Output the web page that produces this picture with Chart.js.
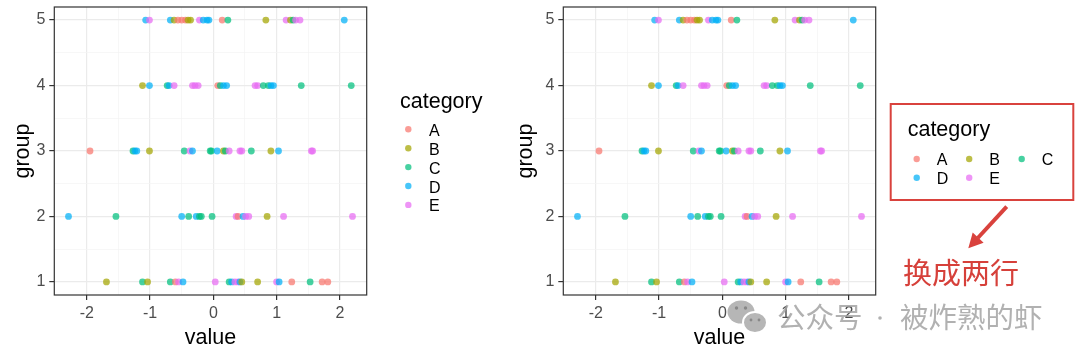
<!DOCTYPE html>
<html>
<head>
<meta charset="utf-8">
<script src="https://cdn.jsdelivr.net/npm/chart.js@4.4.1/dist/chart.umd.min.js"></script>
<style>
  body { margin: 0; background: #fff; width: 1080px; height: 360px; overflow: hidden; position: relative; }
  canvas { position: absolute; top: 0; }
  #leftChart { left: 0; }
  #rightChart { left: 500px; }
  #overlay { position: absolute; left: 0; top: 0; pointer-events: none; }
</style>
</head>
<body>
<canvas id="leftChart" width="380" height="360"></canvas>
<canvas id="rightChart" width="390" height="360"></canvas>
<svg id="overlay" width="1080" height="360"></svg>
<script>
const categories = ['A', 'B', 'C', 'D', 'E'];
const categoryColors = ['#F8766D', '#A3A500', '#00BF7D', '#00B0F6', '#E76BF3'];
const groups = [1, 2, 3, 4, 5];
const xTickLabels = [-2, -1, 0, 1, 2];
const yTickLabels = [1, 2, 3, 4, 5];

// values, one row per group
const group1Values = [-1.69, -1.12, -1.04, -0.68, -0.60, -0.55, -0.48, 0.03, 0.25, 0.29, 0.34, 0.39, 0.42, 0.45, 0.70, 1.00, 1.04, 1.24, 1.53, 1.72, 1.81];
const group1Cats   = ['B', 'C', 'B', 'C', 'A', 'E', 'D', 'E', 'C', 'D', 'E', 'E', 'D', 'B', 'B', 'E', 'D', 'A', 'C', 'A', 'A'];
const group2Values = [-2.29, -1.54, -0.50, -0.39, -0.27, -0.22, -0.19, -0.02, 0.36, 0.39, 0.47, 0.51, 0.56, 0.85, 1.11, 2.20];
const group2Cats   = ['D', 'C', 'D', 'C', 'D', 'C', 'C', 'C', 'E', 'A', 'D', 'E', 'E', 'B', 'E', 'E'];
const group3Values = [-1.95, -1.27, -1.24, -1.21, -1.01, -0.46, -0.37, -0.33, -0.05, -0.03, 0.06, 0.16, 0.19, 0.25, 0.42, 0.45, 0.60, 0.91, 1.03, 1.55, 1.57];
const group3Cats   = ['A', 'C', 'D', 'D', 'B', 'C', 'E', 'D', 'C', 'C', 'D', 'B', 'C', 'E', 'E', 'E', 'C', 'B', 'D', 'E', 'E'];
const group4Values = [-1.12, -1.01, -0.73, -0.70, -0.62, -0.33, -0.29, -0.24, 0.07, 0.11, 0.16, 0.21, 0.66, 0.70, 0.79, 0.87, 0.91, 0.95, 1.39, 2.18];
const group4Cats   = ['B', 'D', 'C', 'D', 'E', 'E', 'E', 'E', 'A', 'C', 'D', 'D', 'E', 'E', 'C', 'C', 'D', 'D', 'C', 'C'];
const group5Values = [-1.07, -1.01, -0.68, -0.62, -0.56, -0.50, -0.44, -0.40, -0.36, -0.22, -0.16, -0.10, -0.07, 0.14, 0.23, 0.83, 1.15, 1.22, 1.26, 1.30, 1.37, 2.07];
const group5Cats   = ['D', 'E', 'D', 'B', 'A', 'A', 'A', 'B', 'B', 'E', 'D', 'D', 'D', 'A', 'C', 'B', 'E', 'B', 'C', 'E', 'E', 'D'];

const groupValues = [group1Values, group2Values, group3Values, group4Values, group5Values];
const groupCats = [group1Cats, group2Cats, group3Cats, group4Cats, group5Cats];

function withAlpha(hex, a) {
    const n = parseInt(hex.slice(1), 16);
    return 'rgba(' + (n >> 16) + ',' + ((n >> 8) & 255) + ',' + (n & 255) + ',' + a + ')';
}

const points = [];
const pointColors = [];
groups.forEach(function (g, i) {
    groupValues[i].forEach(function (v, j) {
        points.push({ x: v, y: g });
        pointColors.push(withAlpha(categoryColors[categories.indexOf(groupCats[i][j])], 0.72));
    });
});

// ggplot style 5% expansion
const allX = points.map(p => p.x);
const xLo = Math.min(...allX), xHi = Math.max(...allX);
const xPad = (xHi - xLo) * 0.05;
const yPad = (groups[groups.length - 1] - groups[0]) * 0.05;

// majors plus minor lines halfway between
function withMinor(major) {
    const out = [];
    major.forEach(function (v, i) {
        if (i > 0) out.push(v - (v - major[i - 1]) / 2);
        out.push(v);
    });
    return out;
}
const xTicks = withMinor(xTickLabels);
const yTicks = withMinor(yTickLabels);

const FONT = "'Liberation Sans', Arial, sans-serif";

const panelBorder = {
    id: 'panelBorder',
    afterDraw(chart) {
        const a = chart.chartArea;
        const ctx = chart.ctx;
        ctx.save();
        ctx.strokeStyle = '#333333';
        ctx.lineWidth = 1.2;
        ctx.strokeRect(a.left, a.top, a.right - a.left, a.bottom - a.top);
        ctx.restore();
    }
};

function gridColor(context) {
    return Number.isInteger(context.tick.value) ? '#EBEBEB' : '#F4F4F4';
}
function gridWidth(context) {
    return Number.isInteger(context.tick.value) ? 1.2 : 0.7;
}
function tickColor(context) {
    return Number.isInteger(context.tick.value) ? '#333333' : 'rgba(0,0,0,0)';
}

function makeChart(id, axisWidth, padRight, yTitlePad) {
    return new Chart(document.getElementById(id), {
        type: 'scatter',
        data: {
            datasets: [{
                data: points,
                pointRadius: 3.4,
                pointBorderWidth: 0,
                pointBackgroundColor: pointColors,
                pointBorderColor: 'rgba(0,0,0,0)',
            }]
        },
        options: {
            responsive: false,
            animation: false,
            devicePixelRatio: 1,
            layout: { padding: { top: 7, right: padRight, left: 0, bottom: 0 } },
            plugins: { legend: { display: false }, tooltip: { enabled: false } },
            scales: {
                x: {
                    type: 'linear',
                    min: xLo - xPad,
                    max: xHi + xPad,
                    afterBuildTicks: function (scale) {
                        scale.ticks = xTicks.map(v => ({ value: v }));
                    },
                    afterFit: function (scale) {
                        scale.height = 65;
                        scale.paddingLeft = 0;
                        scale.paddingRight = 0;
                    },
                    border: { display: false },
                    grid: {
                        color: gridColor,
                        lineWidth: gridWidth,
                        tickColor: tickColor,
                        tickLength: 5,
                        tickWidth: 1.2
                    },
                    ticks: {
                        autoSkip: false,
                        maxRotation: 0,
                        padding: 4,
                        color: '#4D4D4D',
                        font: { family: FONT, size: 16 },
                        callback: function (value) {
                            return Number.isInteger(value) ? String(value) : '';
                        }
                    },
                    title: {
                        display: true,
                        text: 'value',
                        color: '#000000',
                        font: { family: FONT, size: 21.5 },
                        padding: { top: 0, bottom: 9 }
                    }
                },
                y: {
                    type: 'linear',
                    min: groups[0] - yPad,
                    max: groups[groups.length - 1] + yPad,
                    afterBuildTicks: function (scale) {
                        scale.ticks = yTicks.map(v => ({ value: v }));
                    },
                    afterFit: function (scale) {
                        scale.width = axisWidth;
                        scale.paddingTop = 0;
                        scale.paddingBottom = 0;
                    },
                    border: { display: false },
                    grid: {
                        color: gridColor,
                        lineWidth: gridWidth,
                        tickColor: tickColor,
                        tickLength: 5,
                        tickWidth: 1.2
                    },
                    ticks: {
                        autoSkip: false,
                        padding: 4,
                        color: '#4D4D4D',
                        font: { family: FONT, size: 16 },
                        callback: function (value) {
                            return Number.isInteger(value) ? String(value) : '';
                        }
                    },
                    title: {
                        display: true,
                        text: 'group',
                        color: '#000000',
                        font: { family: FONT, size: 21.5 },
                        padding: { top: yTitlePad, bottom: 0 }
                    }
                }
            }
        },
        plugins: [panelBorder]
    });
}

makeChart('leftChart', 54.3, 13.3, 10);
makeChart('rightChart', 63.3, 14.3, 13);

// legends, annotation and watermark
const svg = document.getElementById('overlay');
function add(tag, attrs, text) {
    const el = document.createElementNS('http://www.w3.org/2000/svg', tag);
    for (const k in attrs) el.setAttribute(k, attrs[k]);
    if (text !== undefined) el.textContent = text;
    svg.appendChild(el);
    return el;
}

// left legend: one column
add('text', { x: 400, y: 107.5, 'font-family': FONT, 'font-size': 21.5, fill: '#000' }, 'category');
categories.forEach(function (c, i) {
    const cy = 129.3 + 18.9 * i;
    add('circle', { cx: 408.3, cy: cy, r: 3.2, fill: categoryColors[i], 'fill-opacity': 0.72 });
    add('text', { x: 429, y: cy + 6.5, 'font-family': FONT, 'font-size': 16, fill: '#000' }, c);
});

// right legend: two rows inside red box
add('rect', { x: 890.7, y: 104, width: 182.6, height: 96, fill: 'none', stroke: '#D9423D', 'stroke-width': 2 });
add('text', { x: 907.7, y: 136, 'font-family': FONT, 'font-size': 21.5, fill: '#000' }, 'category');
categories.forEach(function (c, i) {
    const col = i % 3, row = Math.floor(i / 3);
    const cx = 916.7 + 52.5 * col;
    const cy = 159 + 18.7 * row;
    add('circle', { cx: cx, cy: cy, r: 3.2, fill: categoryColors[i], 'fill-opacity': 0.72 });
    add('text', { x: cx + 20, y: cy + 6.3, 'font-family': FONT, 'font-size': 16, fill: '#000' }, c);
});

// red arrow
add('line', { x1: 1006.7, y1: 206.7, x2: 977.8, y2: 238, stroke: '#D9423D', 'stroke-width': 4 });
add('polygon', { points: '968.3,248.3 983.6,242.8 972.7,232.6', fill: '#D9423D' });
add('text', { x: 903, y: 284, 'font-family': "'Noto Sans CJK SC', sans-serif", 'font-size': 29, fill: '#D6403A' }, '换成两行');

// watermark
const wm = add('g', { opacity: 0.82 });
function wmAdd(tag, attrs, text) {
    const el = add(tag, attrs, text);
    wm.appendChild(el);
    return el;
}
wmAdd('ellipse', { cx: 741, cy: 312, rx: 13.5, ry: 11.5, fill: '#A6A6A6' });
wmAdd('ellipse', { cx: 755, cy: 322.5, rx: 12, ry: 10.5, fill: '#A6A6A6', stroke: '#fff', 'stroke-width': 2 });
wmAdd('circle', { cx: 736.5, cy: 308, r: 1.7, fill: '#6E6E6E' });
wmAdd('circle', { cx: 745.5, cy: 308, r: 1.7, fill: '#6E6E6E' });
wmAdd('circle', { cx: 751, cy: 320, r: 1.4, fill: '#6E6E6E' });
wmAdd('circle', { cx: 759, cy: 320, r: 1.4, fill: '#6E6E6E' });
wmAdd('text', { x: 777, y: 328, 'font-family': "'Noto Sans CJK SC', sans-serif", 'font-size': 28.5, fill: '#A0A0A0' }, '公众号');
wmAdd('circle', { cx: 880, cy: 318, r: 1.8, fill: '#A0A0A0' });
wmAdd('text', { x: 900, y: 328, 'font-family': "'Noto Sans CJK SC', sans-serif", 'font-size': 28.5, fill: '#A0A0A0' }, '被炸熟的虾');
</script>
</body>
</html>
